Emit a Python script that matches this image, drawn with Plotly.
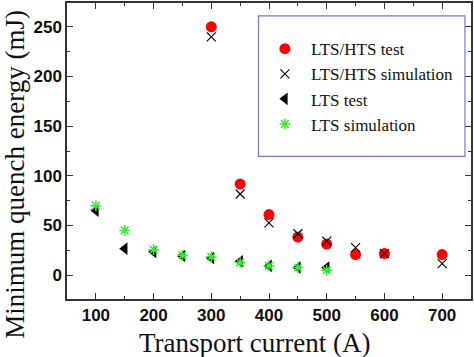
import plotly.graph_objects as go

hyb_test_x = [300, 350, 400, 450, 500, 550, 600, 700]
hyb_test_y = [250, 91.7, 61, 38.3, 31.3, 20.7, 21.7, 20.7]

hyb_sim_x = [300, 350, 400, 450, 500, 550, 600, 700]
hyb_sim_y = [240, 81.7, 52.7, 41.7, 34.3, 27.7, 21.7, 11.7]

lts_test_x = [100, 150, 200, 250, 300, 350, 400, 450, 500]
lts_test_y = [65, 26.7, 23.3, 19.3, 17.3, 14, 9.3, 7.7, 7.7]

lts_sim_x = [100, 150, 200, 250, 300, 350, 400, 450, 500]
lts_sim_y = [70, 45, 25.7, 20, 18.3, 12.7, 9.3, 7.7, 5]

names = ["LTS/HTS test", "LTS/HTS simulation", "LTS test", "LTS simulation"]
x_ticks = [100, 200, 300, 400, 500, 600, 700]
y_ticks = [0, 50, 100, 150, 200, 250]

fig = go.Figure()
fig.add_trace(go.Scatter(x=hyb_test_x, y=hyb_test_y, mode="markers", name=names[0],
                         marker=dict(symbol="circle", size=11, color="#ff0000")))
fig.add_trace(go.Scatter(x=hyb_sim_x, y=hyb_sim_y, mode="markers", name=names[1],
                         marker=dict(symbol="x-thin-open", size=9, color="black",
                                     line=dict(width=1.1, color="black"))))
fig.add_trace(go.Scatter(x=lts_test_x, y=lts_test_y, mode="markers", name=names[2],
                         marker=dict(symbol="triangle-left", size=11, color="black")))
fig.add_trace(go.Scatter(x=lts_sim_x, y=lts_sim_y, mode="markers", name=names[3],
                         marker=dict(symbol="asterisk-open", size=9, color="#33ee33",
                                     line=dict(width=1.5, color="#33ee33"))))

axis_common = dict(
    showline=True, linecolor="#333333", linewidth=1.5, mirror="ticks",
    ticks="inside", ticklen=6, tickwidth=1.2, tickcolor="#333333",
    showgrid=False, zeroline=False,
    tickfont=dict(family="Liberation Sans", size=17, color="#111111", weight="bold"),
)

fig.update_xaxes(range=[50, 750], tickvals=x_ticks,
                 minor=dict(ticks="inside", ticklen=3, dtick=50, tick0=50, tickcolor="#333333"),
                 **axis_common)
fig.update_yaxes(range=[-24, 274], tickvals=y_ticks,
                 minor=dict(ticks="inside", ticklen=3, dtick=25, tick0=0, tickcolor="#333333"),
                 **axis_common)

fig.add_shape(type="rect", xref="paper", yref="paper",
              x0=0.474, x1=0.985, y0=0.4816, y1=0.9565,
              line=dict(color="#7777dd", width=1.2), fillcolor="rgba(0,0,0,0)")

fig.add_annotation(text="Transport current (A)", xref="paper", yref="paper",
                   x=0.464, y=-0.1477, xanchor="center", yanchor="middle", showarrow=False,
                   font=dict(family="Liberation Serif", size=27, color="#111111"))
fig.add_annotation(text="Minimum quench energy (mJ)", xref="paper", yref="paper",
                   x=-0.129, y=0.423, xanchor="center", yanchor="middle", showarrow=False,
                   textangle=-90,
                   font=dict(family="Liberation Serif", size=27, color="#111111"))

fig.update_layout(
    width=474, height=357,
    margin=dict(l=67, r=2, t=1, b=58),
    paper_bgcolor="white", plot_bgcolor="white",
    showlegend=True,
    legend=dict(x=0.475, y=0.905, xanchor="left", yanchor="top",
                bgcolor="rgba(0,0,0,0)", borderwidth=0, itemwidth=42,
                font=dict(family="Liberation Serif", size=17, color="#111111"),
                tracegroupgap=0),
)

fig.write_html("out.html", config={"displayModeBar": False},
               post_script="document.body.style.margin='0';")
